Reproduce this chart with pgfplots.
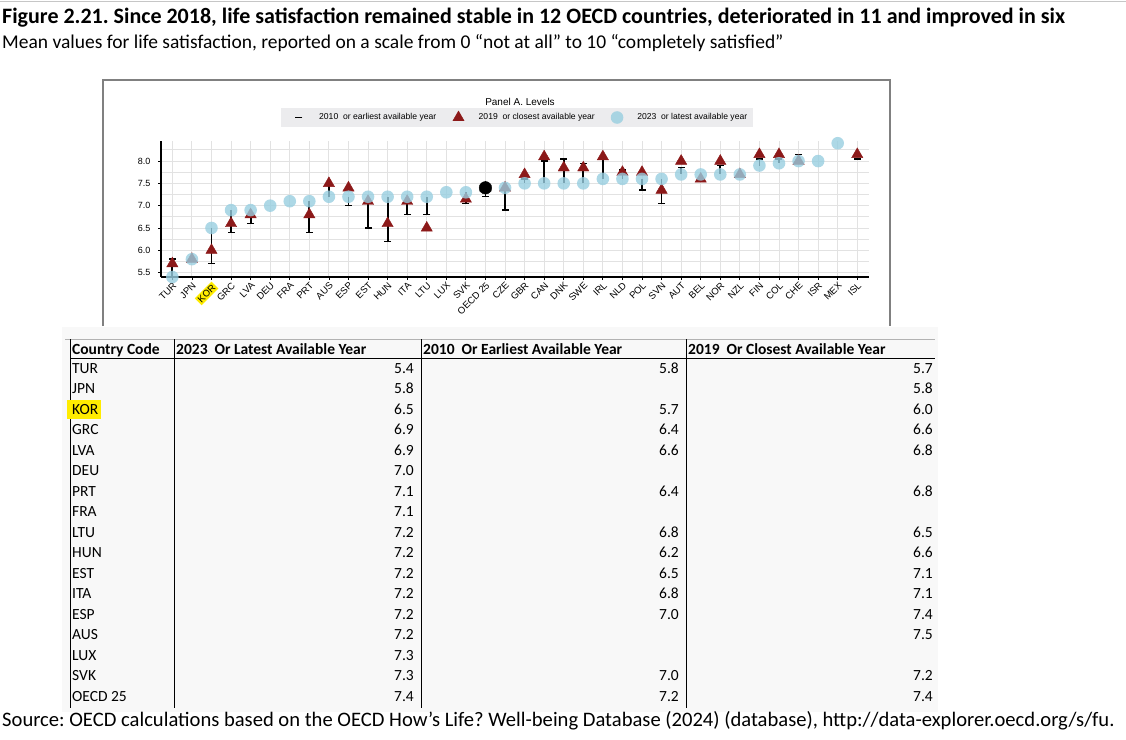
\documentclass[border=0pt]{standalone}
\usepackage{fontspec}
\setmainfont{Carlito}
\newfontfamily\arial{Liberation Sans}
\usepackage{pgfplots}
\usepackage{pgfplotstable}
\pgfplotsset{compat=1.18}
\frenchspacing

\definecolor{dotblue}{RGB}{152,206,224}
\definecolor{tri}{RGB}{140,25,25}
\definecolor{gridc}{RGB}{226,226,226}
\definecolor{legbg}{RGB}{236,236,238}
\definecolor{hl}{RGB}{255,236,0}
\definecolor{tblbg}{RGB}{248,248,248}

% x  2023  2019  2010  bar up / bar down (from the 2010 value to the 2023 value)
\pgfplotstableread{
x  y23   y19   y10   ep    em
0  5.4   5.7   5.8   0     0.4
1  5.8   5.8   nan   0     0
2  6.5   6.0   5.7   0.8   0
3  6.9   6.6   6.4   0.5   0
4  6.9   6.8   6.6   0.3   0
5  7.0   nan   nan   0     0
6  7.1   nan   nan   0     0
7  7.1   6.8   6.4   0.7   0
8  7.2   7.5   7.45  0     0.25
9  7.2   7.4   7.0   0.2   0
10 7.2   7.1   6.5   0.7   0
11 7.2   6.6   6.2   1.0   0
12 7.2   7.1   6.8   0.4   0
13 7.2   6.5   6.8   0.4   0
14 7.3   nan   nan   0     0
15 7.3   7.15  7.05  0.25  0
16 nan   nan   7.2   0.2   0
17 7.4   7.4   6.9   0.5   0
18 7.5   7.7   7.6   0     0.1
19 7.5   8.1   8.0   0     0.5
20 7.5   7.85  8.05  0     0.55
21 7.5   7.85  7.95  0     0.45
22 7.6   8.1   8.05  0     0.45
23 7.6   7.75  7.8   0     0.2
24 7.6   7.75  7.35  0.25  0
25 7.6   7.35  7.05  0.55  0
26 7.7   8.0   7.85  0     0.15
27 7.7   7.6   nan   0     0
28 7.7   8.0   7.9   0     0.2
29 7.7   7.7   nan   0     0
30 7.9   8.15  8.05  0     0.15
31 7.95  8.15  8.05  0     0.1
32 8.0   8.0   8.15  0     0.15
33 8.0   nan   nan   0     0
34 8.4   nan   nan   0     0
35 nan   8.15  8.05  0     0
}\data

\pgfplotstableread{
x  y23  y19
16 7.4  7.4
}\oecd

\pgfplotsset{
  dotstyle/.style={only marks, color=dotblue, mark=*, mark size=6.3pt,
    mark options={draw opacity=0, fill=dotblue, fill opacity=0.8}},
  tristyle/.style={only marks, color=tri, mark=triangle*, mark size=6.5pt,
    mark options={draw=tri, fill=tri}},
  dashstyle/.style={only marks, color=black, mark=-, mark size=3.5pt,
    mark options={line width=1.4pt, black}},
}

\begin{document}
\begin{tikzpicture}
\begin{scope}[x=1pt,y=-1pt]
\path[use as bounding box] (0,0) rectangle (1126,739);
\draw[gray!45, line width=0.8pt] (0,1) -- (1126,1);
\node[anchor=base west, inner sep=0pt, font=\fontsize{22}{26}\selectfont\bfseries] at (2,23)
  {Figure 2.21. Since 2018, life satisfaction remained stable in 12 OECD countries, deteriorated in 11 and improved in six};
\node[anchor=base west, inner sep=0pt, font=\fontsize{19.5}{23}\selectfont] at (2,48)
  {Mean values for life satisfaction, reported on a scale from 0 “not at all” to 10 “completely satisfied"};
% chart frame
\draw[gray, line width=1.5pt] (103,326) -- (103,80) -- (890,80) -- (890,326);
\node[font=\arial\fontsize{10}{12}\selectfont] at (520,102) {Panel A. Levels};
% table
\fill[tblbg] (62,327) rectangle (938,712);
\draw[gray!60, line width=0.8pt] (65,339) -- (935,339);
\draw[black, line width=1.2pt] (70,358.5) -- (935,358.5);
\foreach \xx in {70,174,421,686} \draw[black, line width=0.7pt] (\xx,339) -- (\xx,708);
\fill[hl] (67,400) rectangle (101,419);
\begin{scope}[every node/.style={inner sep=0pt, font=\fontsize{15.5}{18}\selectfont}]
\node[anchor=base west] at (72,354) {\bfseries Country Code};
\node[anchor=base west] at (176,354) {\bfseries 2023\ \ Or Latest Available Year};
\node[anchor=base west] at (423,354) {\bfseries 2010\ \ Or Earliest Available Year};
\node[anchor=base west] at (688,354) {\bfseries 2019\ \ Or Closest Available Year};
\foreach \n/\a/\b/\c [count=\i] in {TUR/5.4/5.8/5.7, JPN/5.8//5.8, KOR/6.5/5.7/6.0, GRC/6.9/6.4/6.6,
  LVA/6.9/6.6/6.8, DEU/7.0//, PRT/7.1/6.4/6.8, FRA/7.1//, LTU/7.2/6.8/6.5, HUN/7.2/6.2/6.6,
  EST/7.2/6.5/7.1, ITA/7.2/6.8/7.1, ESP/7.2/7.0/7.4, AUS/7.2//7.5, LUX/7.3//, SVK/7.3/7.0/7.2,
  OECD 25/7.4/7.2/7.4} {
  \node[anchor=base west] at (72,{352.5+20.5*\i}) {\n};
  \node[anchor=base east] at (414,{352.5+20.5*\i}) {\a};
  \node[anchor=base east] at (679,{352.5+20.5*\i}) {\b};
  \node[anchor=base east] at (933,{352.5+20.5*\i}) {\c};
}
\end{scope}
\node[anchor=base west, inner sep=0pt, font=\fontsize{20.6}{24}\selectfont] at (2,726)
  {Source: OECD calculations based on the OECD How’s Life? Well-being Database (2024) (database), http://data-explorer.oecd.org/s/fu.};
\end{scope}

\begin{axis}[
  at={(161pt,-277pt)}, anchor=south west,
  scale only axis, width=708pt, height=136pt,
  xmin=-0.58, xmax=35.6, ymin=5.4, ymax=8.45,
  axis x line=bottom, axis y line=left,
  axis line style={-, line width=1.6pt, black},
  xtick={0,...,35},
  xticklabels={TUR,JPN,{\setlength\fboxsep{1.5pt}\colorbox{hl}{KOR}},GRC,LVA,DEU,FRA,PRT,AUS,ESP,EST,HUN,ITA,LTU,LUX,SVK,OECD 25,CZE,GBR,CAN,DNK,SWE,IRL,NLD,POL,SVN,AUT,BEL,NOR,NZL,FIN,COL,CHE,ISR,MEX,ISL},
  ytick={5.5,6,...,8}, minor ytick={5.75,6.25,...,8.25},
  grid=both,
  major grid style={gridc, line width=0.9pt},
  minor grid style={gridc, line width=0.9pt},
  tick align=outside, major tick length=3pt, minor tick length=0pt,
  tick style={black, line width=0.8pt},
  /pgf/number format/assume math mode=true,
  yticklabel style={/pgf/number format/.cd, fixed, fixed zerofill, precision=1, /tikz/.cd,
    font=\arial\fontsize{9}{10}\selectfont, xshift=-4pt},
  xticklabel style={rotate=45, anchor=north east, inner sep=1pt,
    font=\arial\fontsize{9.5}{10}\selectfont},
  clip=false,
  legend columns=3,
  legend image code/.code={%
    \path (-14pt,0pt) (18pt,0pt);
    \draw[#1] plot coordinates {(0pt,0pt)};},
  legend style={at={(0.5,1)}, anchor=south, xshift=2pt, yshift=14pt, fill=legbg, draw=none,
    font=\arial\fontsize{8.6}{10}\selectfont, inner xsep=4pt, inner ysep=3pt,
    /tikz/every even column/.append style={column sep=6pt}},
  legend cell align=left,
]
\addlegendimage{dashstyle}
\addlegendentry{2010\ \ or earliest available year}
\addlegendimage{tristyle}
\addlegendentry{2019\ \ or closest available year}
\addlegendimage{dotstyle}
\addlegendentry{2023\ \ or latest available year}

\addplot[forget plot, dashstyle,
  error bars/.cd, y dir=both, y explicit, error mark=none,
  error bar style={line width=1.8pt, black}]
  table[x=x, y=y10, y error plus=ep, y error minus=em] {\data};
\addplot[forget plot, tristyle] table[x=x, y=y19] {\data};
\addplot[forget plot, dotstyle] table[x=x, y=y23] {\data};
\addplot[forget plot, only marks, mark=triangle*, mark size=6.5pt, mark options={black}]
  table[x=x, y=y19] {\oecd};
\addplot[forget plot, only marks, mark=*, mark size=6.3pt, mark options={black}]
  table[x=x, y=y23] {\oecd};
\end{axis}
\end{tikzpicture}
\end{document}
